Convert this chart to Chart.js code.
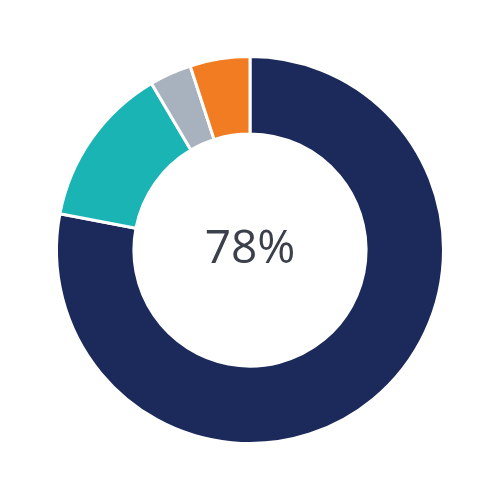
<!DOCTYPE html>
<html>
<head>
<meta charset="utf-8">
<script src="https://cdn.jsdelivr.net/npm/chart.js@4/dist/chart.umd.min.js"></script>
<style>
html,body{margin:0;padding:0;background:#fff;}
#wrap{position:relative;width:500px;height:500px;}
#center{position:absolute;left:0;top:-5px;width:500px;height:500px;display:flex;align-items:center;justify-content:center;font-family:"Open Sans",sans-serif;font-size:46px;color:#3b404b;pointer-events:none;}
</style>
</head>
<body>
<div id="wrap"><canvas id="c" width="500" height="500"></canvas><div id="center"></div></div>
<script>
const labels = ["Navy", "Teal", "Gray", "Orange"];
const values = [78, 13.5, 3.5, 5];
const colors = ["#1b2a5a", "#1bb4b5", "#a8b2bf", "#f27c21"];
const centerLabel = "78%";

document.getElementById('center').textContent = centerLabel;
new Chart(document.getElementById('c'), {
  type: 'doughnut',
  data: { labels: labels, datasets: [{ data: values, backgroundColor: colors, borderColor: '#ffffff', borderWidth: 3 }] },
  options: {
    responsive: false,
    animation: false,
    cutout: '60%',
    layout: { padding: 55 },
    plugins: { legend: { display: false }, tooltip: { enabled: false } }
  }
});
</script>
</body>
</html>
